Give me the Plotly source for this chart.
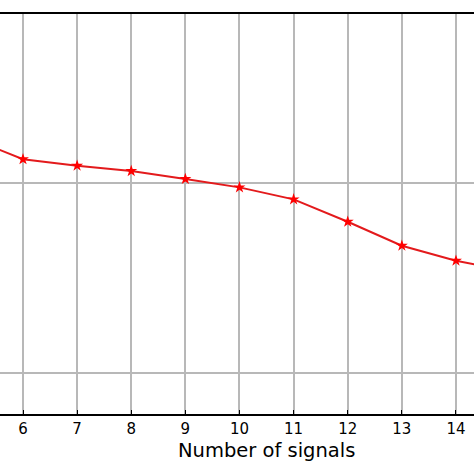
import plotly.graph_objects as go

# number of signals and the measured curve (y in arbitrary grid units)
signals = [5, 6, 7, 8, 9, 10, 11, 12, 13, 14, 15]
values = [2.240, 2.125, 2.091, 2.063, 2.021, 1.977, 1.914, 1.796, 1.670, 1.591, 1.534]
tick_vals = [6, 7, 8, 9, 10, 11, 12, 13, 14]
tick_text = ['6', '7', '8', '9', '10', '11', '12', '13', '14']

fig = go.Figure()
fig.add_trace(go.Scatter(
    x=signals,
    y=values,
    mode='lines+markers',
    line=dict(color='#e31a1c', width=2),
    marker=dict(symbol='star', size=9, color='red'),
    showlegend=False,
))

fig.update_layout(
    width=474,
    height=474,
    paper_bgcolor='white',
    plot_bgcolor='white',
    font=dict(family='DejaVu Sans', color='black'),
    margin=dict(l=0, r=0, t=14, b=60),
    xaxis=dict(
        range=[5.575, 14.333],
        tickvals=tick_vals,
        ticktext=tick_text,
        tickfont=dict(size=15),
        ticks='inside',
        ticklen=4,
        tickcolor='black',
        showgrid=True,
        gridcolor='#b8b8b8',
        gridwidth=1.5,
        showline=True,
        linecolor='black',
        linewidth=1.5,
        mirror=True,
        zeroline=False,
    ),
    yaxis=dict(
        range=[0.7842, 2.8895],
        tick0=0,
        dtick=1,
        showticklabels=False,
        showgrid=True,
        gridcolor='#b8b8b8',
        gridwidth=1.5,
        showline=False,
        zeroline=False,
    ),
    annotations=[dict(
        text='Number of signals',
        x=10.49, xref='x',
        y=-0.09, yref='paper',
        xanchor='center', yanchor='middle',
        showarrow=False,
        font=dict(size=19.5),
    )],
)

# drop the default page margin so the figure sits at the window's corner
fig.write_html(
    "out.html",
    config={'displayModeBar': False},
    post_script="document.body.style.margin='0';",
)
